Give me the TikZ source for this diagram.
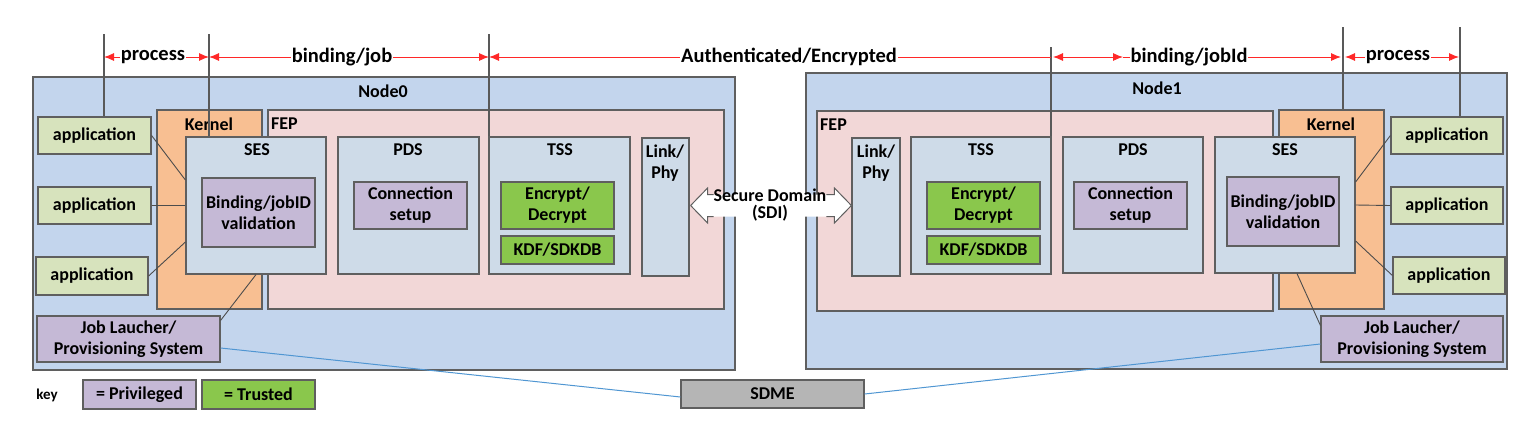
\documentclass[tikz,border=0pt]{standalone}
\usepackage{fontspec}
\setmainfont{Carlito}
\usetikzlibrary{arrows.meta,calc}
\definecolor{nodebg}{RGB}{195,213,237}
\definecolor{fepbg}{RGB}{242,215,215}
\definecolor{kernbg}{RGB}{248,191,146}
\definecolor{subbg}{RGB}{206,219,232}
\definecolor{privbg}{RGB}{197,185,214}
\definecolor{trustbg}{RGB}{138,199,76}
\definecolor{appbg}{RGB}{215,227,189}
\definecolor{sdmebg}{RGB}{181,181,181}
\definecolor{bord}{RGB}{95,95,95}
\definecolor{bluel}{RGB}{80,150,210}
\definecolor{dimred}{RGB}{255,40,40}
\newcommand\mkbox[7]{\node[bx,#2,minimum width={(#5-#3)*1pt},minimum height={(#6-#4)*1pt}] (#1) at ({(#3+#5)/2},{(#4+#6)/2}) {#7};}
\begin{document}
\begin{tikzpicture}[x=1pt,y=-1pt,
  bx/.style={rectangle,draw=bord,line width=1.2pt,inner sep=0pt,align=center,font=\bfseries\fontsize{18}{21}\selectfont},
  lbl/.style={inner sep=0pt,align=center,font=\bfseries\fontsize{18}{21}\selectfont},
  dimlbl/.style={fill=white,inner sep=1pt,font=\bfseries\fontsize{20.5}{24}\selectfont},
  dim/.style={draw=dimred,line width=0.9pt,arrows={-}, >={Latex[length=10pt,width=8pt]}},
  vline/.style={draw=black!65,line width=1.3pt},
  conn/.style={draw=black!70,line width=0.9pt},
  sdline/.style={draw=bluel,line width=1pt},
  nodebox/.style={fill=nodebg},
  fepbox/.style={fill=fepbg},
  kernbox/.style={fill=kernbg},
  subbox/.style={fill=subbg},
  privbox/.style={fill=privbg},
  trustbox/.style={fill=trustbg},
  appbox/.style={fill=appbg},
  sdmebox/.style={fill=sdmebg}]
\useasboundingbox (0,0) rectangle (1540,429);

% ---------- Node0 ----------
\mkbox{node0}{nodebox}{33}{77}{735}{370}{}
\node[lbl] (node0l) at (383,91) {Node0};
\mkbox{kernel0}{kernbox}{157}{110}{262}{309}{}
\node[lbl] (kernel0l) at (209,124) {Kernel};
\mkbox{fep0}{fepbox}{268}{110}{724}{309}{}
\node[lbl,anchor=west] (fep0l) at (271,124) {FEP};
\mkbox{ses0}{subbox}{186}{137}{326}{274}{}
\node[lbl] (ses0l) at (257,150) {SES};
\mkbox{bind0}{privbox}{202}{178}{315}{247}{Binding/jobID\\validation}
\mkbox{pds0}{subbox}{338}{137}{479}{274}{}
\node[lbl] (pds0l) at (408,150) {PDS};
\mkbox{conn0}{privbox}{354}{182}{467}{229}{Connection\\setup}
\mkbox{tss0}{subbox}{489}{137}{630}{274}{}
\node[lbl] (tss0l) at (560,150) {TSS};
\mkbox{enc0}{trustbox}{501}{182}{614}{229}{Encrypt/\\Decrypt}
\mkbox{kdf0}{trustbox}{501}{236}{614}{264}{KDF/SDKDB}
\mkbox{link0}{subbox}{642}{138}{689}{276}{}
\node[lbl] (link0l) at (665,163) {Link/\\Phy};
\mkbox{app01}{appbox}{38}{117}{151}{154}{application}
\mkbox{app02}{appbox}{38}{187}{151}{224}{application}
\mkbox{app03}{appbox}{36}{257}{148}{295}{application}
\mkbox{job0}{privbox}{37}{316}{220}{362}{Job Laucher/\\Provisioning System}

% ---------- Node1 ----------
\mkbox{node1}{nodebox}{806}{73}{1507}{369}{}
\node[lbl] (node1l) at (1157,88) {Node1};
\mkbox{fep1}{fepbox}{817}{111}{1273}{311}{}
\node[lbl,anchor=west] (fep1l) at (820,125) {FEP};
\mkbox{kernel1}{kernbox}{1279}{110}{1384}{309}{}
\node[lbl] (kernel1l) at (1331,124) {Kernel};
\mkbox{link1}{subbox}{852}{138}{900}{276}{}
\node[lbl] (link1l) at (876,163) {Link/\\Phy};
\mkbox{tss1}{subbox}{911}{137}{1051}{274}{}
\node[lbl] (tss1l) at (981,150) {TSS};
\mkbox{enc1}{trustbox}{927}{182}{1040}{229}{Encrypt/\\Decrypt}
\mkbox{kdf1}{trustbox}{927}{236}{1040}{264}{KDF/SDKDB}
\mkbox{pds1}{subbox}{1063}{137}{1203}{273}{}
\node[lbl] (pds1l) at (1133,150) {PDS};
\mkbox{conn1}{privbox}{1074}{182}{1187}{229}{Connection\\setup}
\mkbox{ses1}{subbox}{1215}{137}{1355}{273}{}
\node[lbl] (ses1l) at (1285,150) {SES};
\mkbox{bind1}{privbox}{1227}{177}{1339}{246}{Binding/jobID\\validation}
\mkbox{app11}{appbox}{1391}{117}{1503}{154}{application}
\mkbox{app12}{appbox}{1391}{187}{1503}{224}{application}
\mkbox{app13}{appbox}{1393}{257}{1505}{294}{application}
\mkbox{job1}{privbox}{1321}{316}{1503}{362}{Job Laucher/\\Provisioning System}

% ---------- key and SDME ----------
\node[lbl,font=\bfseries\fontsize{15}{18}\selectfont] (key) at (47,395) {key};
\mkbox{priv}{privbox}{83}{380}{196}{409}{= Privileged}
\mkbox{trust}{trustbox}{202}{380}{315}{409}{= Trusted}
\mkbox{sdme}{sdmebox}{681}{380}{864}{408}{SDME}

% ---------- connectors inside nodes ----------
\draw[conn] (app01.east) -- ([yshift=25.5pt]ses0.west);
\draw[conn] (app02.east) -- (ses0.west);
\draw[conn] (app03.east) -- ([yshift=-36.5pt]ses0.west);
\draw[conn] ([yshift=-5pt]job0.north east) -- (ses0.south);
\draw[conn] (app11.west) -- ([yshift=23pt]ses1.east);
\draw[conn] (app12.west) -- (ses1.east);
\draw[conn] (app13.west) -- ([yshift=-36pt]ses1.east);
\draw[conn] ([yshift=-10pt]job1.north west) -- ([xshift=12pt]ses1.south);

% ---------- SDME links ----------
\draw[sdline] ([yshift=-9pt]job0.east) -- ([yshift=-3pt]sdme.west);
\draw[sdline] ([yshift=-5pt]job1.west) -- (sdme.east);

% ---------- vertical boundary lines ----------
\coordinate (t1) at (104,34);
\coordinate (t2) at (209,34);
\coordinate (t3) at (489,34);
\coordinate (t4) at (1051,47);
\coordinate (t5) at (1343,27);
\coordinate (t6) at (1460,27);
\draw[vline] (t1) -- (t1 |- app01.north);
\draw[vline] (t2) -- (t2 |- ses0.north);
\draw[vline] (t3) -- (t3 |- tss0.north);
\draw[vline] (t4) -- (t4 |- tss1.north);
\draw[vline] (t5) -- (t5 |- kernel1.north);
\draw[vline] (t6) -- (t6 |- app11.north);

% ---------- dimension arrows ----------
\coordinate (dy) at (0,57);
\coordinate (dmid) at (1123,57);
\draw[dim,<->] (t1 |- dy) -- (t2 |- dy);
\draw[dim,<->] (t2 |- dy) -- (t3 |- dy);
\draw[dim,<-] (t3 |- dy) -- (t4 |- dy);
\draw[dim,<->] ([xshift=2pt]t4 |- dy) -- (dmid);
\draw[dim,->] (dmid) -- ([xshift=-2pt]t5 |- dy);
\draw[dim,<->] ([xshift=2pt]t5 |- dy) -- ([xshift=-1pt]t6 |- dy);
\node[dimlbl] (lp0) at (153,57) {process};
\node[dimlbl] (lb0) at (342,57) {binding/job};
\node[dimlbl] (lae) at (789,57) {Authenticated/Encrypted};
\node[dimlbl] (lb1) at (1189,57) {binding/jobId};
\node[dimlbl] (lp1) at (1398,57) {process};

% ---------- secure domain double arrow ----------
\coordinate (sdL) at ($(link0.east)+(1,-1.5)$);
\coordinate (sdR) at ($(link1.west)+(0,-1.5)$);
\fill[white] (sdL) -- ++(17,-17.5) -- ++(0,6.5) -- ($(sdR)+(-17,-11)$) -- ++(0,-6.5) -- (sdR)
  -- ++(-17,17.5) -- ++(0,-6.5) -- ($(sdL)+(17,11)$) -- ++(0,6.5) -- cycle;
\draw[draw=bord,line width=1pt,line join=miter] (sdL) -- ++(17,-17.5) -- ++(0,6.5) -- ++(6,0);
\draw[draw=bord,line width=1pt,line join=miter] (sdL) -- ++(17,17.5) -- ++(0,-6.5) -- ++(6,0);
\draw[draw=bord,line width=1pt,line join=miter] (sdR) -- ++(-17,-17.5) -- ++(0,6.5) -- ++(-8,0);
\draw[draw=bord,line width=1pt,line join=miter] (sdR) -- ++(-17,17.5) -- ++(0,-6.5) -- ++(-8,0);
\node[lbl,font=\bfseries\fontsize{18}{16.5}\selectfont] (sdi) at (770,205) {Secure Domain\\(SDI)};
\end{tikzpicture}
\end{document}
